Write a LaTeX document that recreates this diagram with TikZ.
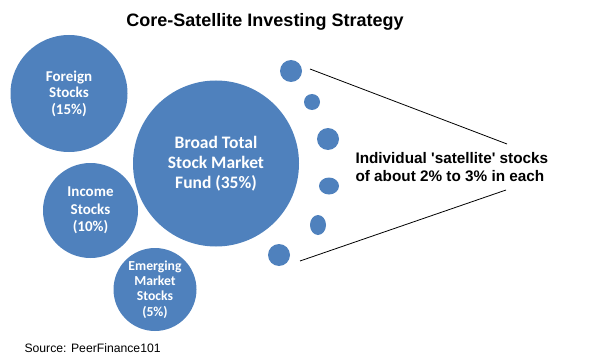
\documentclass[tikz,border=0pt]{standalone}
\usepackage{fontspec}
\setmainfont{Liberation Sans}
\newfontfamily\calibri{Carlito}
\usetikzlibrary{shapes.geometric}

\definecolor{bubble}{RGB}{79,129,189}

\tikzset{
	fund/.style = {circle, fill = bubble, inner sep = 0pt, text = white, align = center},
	sat/.style = {circle, fill = bubble, inner sep = 0pt},
	satoval/.style = {ellipse, fill = bubble, inner sep = 0pt},
}

\begin{document}
\begin{tikzpicture}[x = 1pt, y = -1pt]

	% Canvas

	\useasboundingbox (0, 0) rectangle (600, 361);

	% Title

	\node (title) at (265, 22) {\fontsize{18}{21}\selectfont\bfseries Core-Satellite Investing Strategy};

	% Core and other funds

	\node [fund, minimum size = 166pt, font = \calibri\bfseries\fontsize{17.5}{20}\selectfont] (core) at (216, 163.5) {Broad Total\\Stock Market\\Fund (35\%)};
	\node [fund, minimum size = 117pt, font = \calibri\bfseries\fontsize{15}{16.5}\selectfont] (foreign) at (69, 93.5) {Foreign\\Stocks\\(15\%)};
	\node [fund, minimum size = 95pt, font = \calibri\bfseries\fontsize{15}{17.5}\selectfont] (income) at (90.5, 210.5) {Income\\Stocks\\(10\%)};
	\node [fund, minimum size = 83pt, font = \calibri\bfseries\fontsize{13.7}{15.3}\selectfont] (emerging) at (155, 289.5) {Emerging\\Market\\Stocks\\(5\%)};

	% Satellites

	\node [sat, minimum size = 22pt] (sat1) at (291, 71) {};
	\node [sat, minimum size = 16pt] (sat2) at (312, 102) {};
	\node [sat, minimum size = 22pt] (sat3) at (328, 139) {};
	\node [satoval, minimum width = 20pt, minimum height = 17pt] (sat4) at (329, 186) {};
	\node [satoval, minimum width = 16pt, minimum height = 20pt] (sat5) at (318, 225) {};
	\node [sat, minimum size = 22pt] (sat6) at (279, 255) {};

	% Callout

	\node [anchor = west, align = left, font = \bfseries\fontsize{15.3}{18}\selectfont] (note) at (352, 167) {Individual \textquotesingle satellite\textquotesingle{} stocks\\of about 2\% to 3\% in each};

	\coordinate (upA) at (310, 69);
	\coordinate (upB) at (507, 144);
	\coordinate (lowA) at (300, 261);
	\coordinate (lowB) at (506, 190);
	\draw [line width = 0.8pt] (upA) -- (upB);
	\draw [line width = 0.8pt] (lowA) -- (lowB);

	% Source

	\node [anchor = west, font = \fontsize{12.2}{14}\selectfont] (source) at (21, 348) {Source: PeerFinance101};

\end{tikzpicture}
\end{document}
